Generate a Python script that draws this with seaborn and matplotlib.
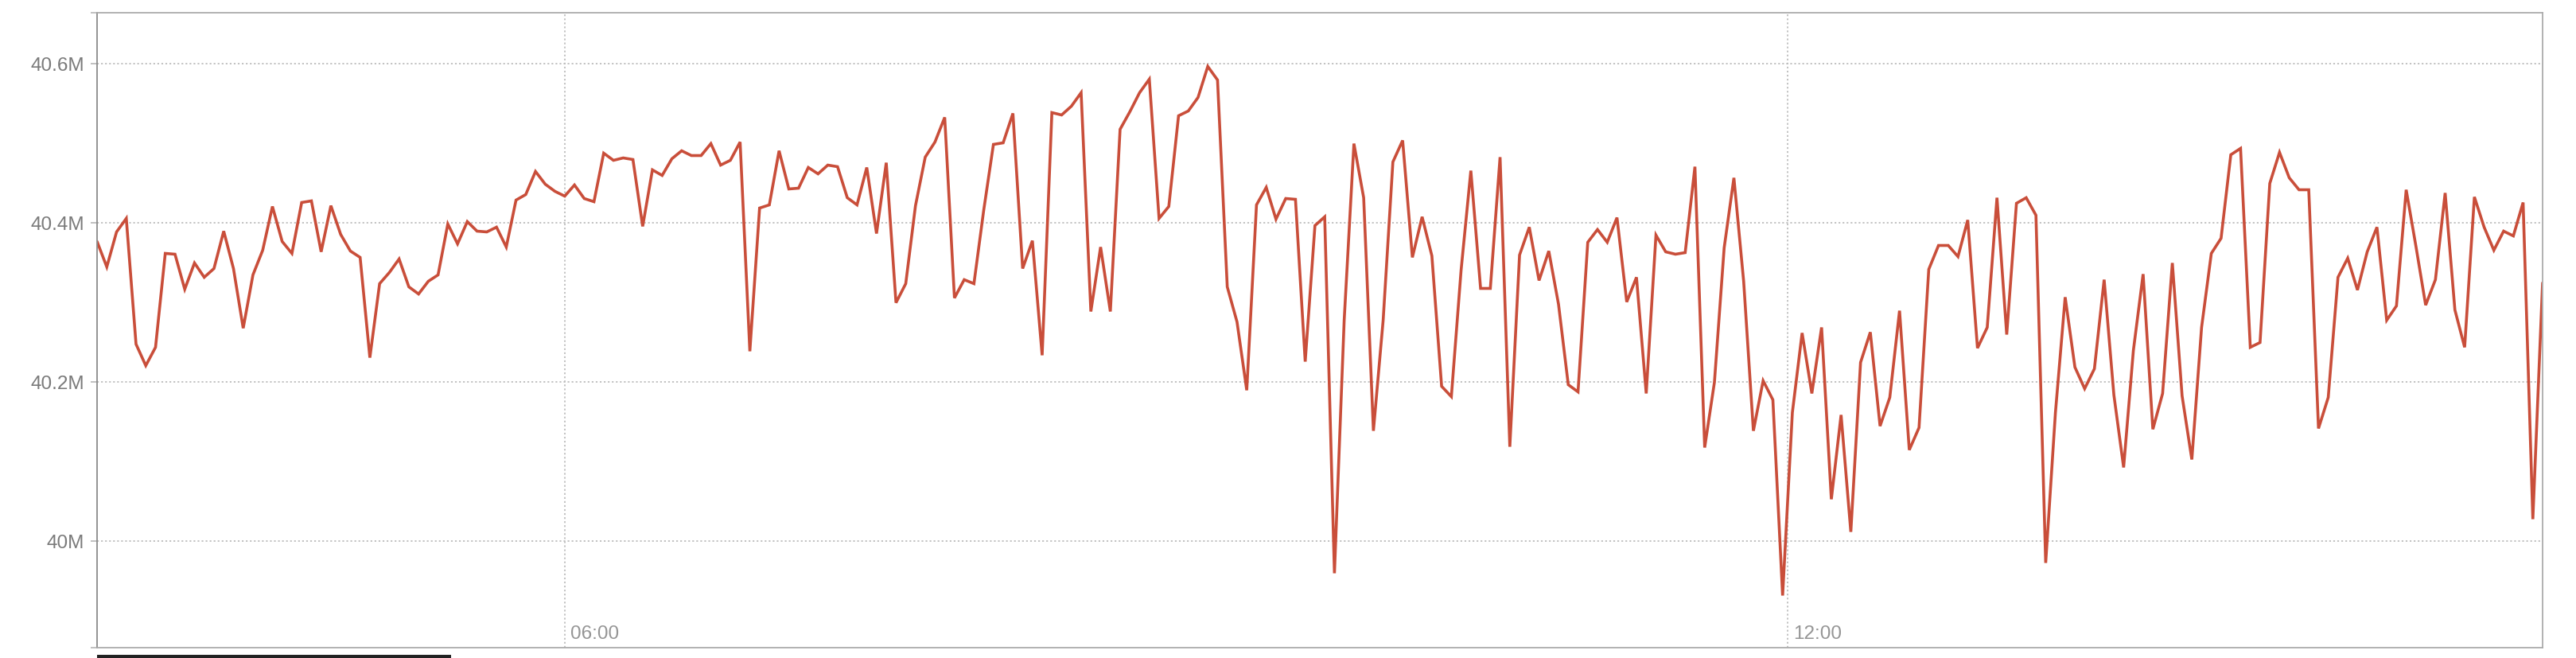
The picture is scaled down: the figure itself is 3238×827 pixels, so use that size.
import pandas as pd
import matplotlib
matplotlib.use("Agg")
import matplotlib.pyplot as plt
import matplotlib.transforms as mtransforms
from matplotlib.ticker import FuncFormatter
from matplotlib.patches import Rectangle
import seaborn as sns

# ### 1. DATA (values in millions, one sample every ~2.9 min over 12 hours)

start_time = "2024-01-01 03:42:19"
end_time = "2024-01-01 15:42:19"

block_1 = [40.376, 40.344, 40.388, 40.405, 40.247, 40.220, 40.243, 40.361, 40.360, 40.316,
           40.349, 40.331, 40.342, 40.389, 40.342, 40.267, 40.334, 40.365, 40.420, 40.376,
           40.361, 40.425, 40.427, 40.363, 40.421, 40.385, 40.364, 40.356, 40.230, 40.323,
           40.337, 40.354, 40.319, 40.310, 40.326, 40.334]
block_2 = [40.398, 40.373, 40.401, 40.389, 40.388, 40.394, 40.369, 40.428, 40.435, 40.464,
           40.448, 40.439, 40.433, 40.447, 40.430, 40.426, 40.487, 40.478, 40.481, 40.479,
           40.395, 40.466, 40.459, 40.480, 40.490, 40.484, 40.484, 40.499, 40.472, 40.478,
           40.501, 40.238, 40.418, 40.422, 40.490, 40.442]
block_3 = [40.443, 40.469, 40.461, 40.472, 40.470, 40.431, 40.422, 40.469, 40.386, 40.475,
           40.299, 40.323, 40.421, 40.482, 40.501, 40.532, 40.305, 40.328, 40.323, 40.415,
           40.498, 40.500, 40.537, 40.342, 40.377, 40.233, 40.538, 40.535, 40.546, 40.563,
           40.288, 40.369, 40.288, 40.517, 40.539, 40.563]
block_4 = [40.580, 40.405, 40.420, 40.534, 40.540, 40.557, 40.596, 40.579, 40.319, 40.275,
           40.189, 40.422, 40.444, 40.404, 40.430, 40.429, 40.225, 40.396, 40.407, 39.959,
           40.277, 40.499, 40.431, 40.138, 40.277, 40.476, 40.503, 40.356, 40.407, 40.358,
           40.194, 40.181, 40.340, 40.465, 40.317, 40.317]
block_5 = [40.482, 40.118, 40.359, 40.394, 40.327, 40.364, 40.297, 40.196, 40.187, 40.375,
           40.391, 40.375, 40.406, 40.300, 40.331, 40.185, 40.384, 40.363, 40.360, 40.362,
           40.470, 40.117, 40.199, 40.368, 40.456, 40.326, 40.138, 40.201, 40.177, 39.931,
           40.161, 40.261, 40.185, 40.268, 40.052, 40.158]
block_6 = [40.011, 40.224, 40.262, 40.144, 40.180, 40.289, 40.114, 40.142, 40.341, 40.371,
           40.371, 40.357, 40.403, 40.242, 40.268, 40.431, 40.259, 40.424, 40.431, 40.409,
           39.972, 40.161, 40.306, 40.218, 40.191, 40.216, 40.328, 40.183, 40.092, 40.239,
           40.335, 40.140, 40.185, 40.349, 40.182, 40.102]
block_7 = [40.268, 40.361, 40.380, 40.485, 40.493, 40.243, 40.249, 40.449, 40.488, 40.456,
           40.441, 40.441, 40.141, 40.180, 40.331, 40.355, 40.315, 40.363, 40.394, 40.277,
           40.295, 40.441, 40.370, 40.296, 40.328, 40.437, 40.290, 40.243, 40.432, 40.394,
           40.365, 40.389, 40.383, 40.425, 40.027, 40.324]

y_ticks_m = [40.0, 40.2, 40.4, 40.6]
y_limits_m = (39.8655, 40.6635)
x_tick_times = ["2024-01-01 06:00", "2024-01-01 12:00"]
x_tick_labels = ["06:00", "12:00"]

values_m = block_1 + block_2 + block_3 + block_4 + block_5 + block_6 + block_7
df = pd.DataFrame({
    "time": pd.date_range(start_time, end_time, periods=len(values_m)),
    "value": [v * 1e6 for v in values_m],
})

# ### 2. STYLE

sns.set_theme(style="white")
plt.rcParams["font.family"] = ["Liberation Sans", "DejaVu Sans"]

LINE_COLOR = "#c94e3a"
GRID_COLOR = "#bdbdbd"

fig = plt.figure(figsize=(32.38, 8.28), dpi=100)
# plot box: x 122..3196 px, y 17..815 px from the top
ax = fig.add_axes([122 / 3238, 13 / 828, (3196 - 122) / 3238, (811 - 13) / 828])

# ### 3. PLOT

sns.lineplot(data=df, x="time", y="value", color=LINE_COLOR, linewidth=2.6,
             ax=ax, solid_joinstyle="miter")

ax.set_xlim(df["time"].iloc[0], df["time"].iloc[-1])
ax.set_ylim(y_limits_m[0] * 1e6, y_limits_m[1] * 1e6)
ax.set_xlabel("")
ax.set_ylabel("")

ax.set_yticks([v * 1e6 for v in y_ticks_m])
ax.set_yticks([v * 1e6 for v in y_limits_m], minor=True)
ax.yaxis.set_major_formatter(FuncFormatter(lambda v, p: f"{v / 1e6:g}M"))
ax.tick_params(axis="y", which="both", length=5.5, width=1.3, color="#bbbbbb",
               labelsize=17.5, labelcolor="#7a7a7a", pad=6, left=True)

xt = pd.to_datetime(x_tick_times)
ax.set_xticks(xt)
ax.set_xticklabels(x_tick_labels)
ax.tick_params(axis="x", length=0, labelsize=17.5, labelcolor="#959595", pad=-21)
shift = mtransforms.ScaledTranslation(7 / 100, 0, fig.dpi_scale_trans)
for lab in ax.get_xticklabels():
    lab.set_horizontalalignment("left")
    lab.set_transform(lab.get_transform() + shift)

ax.grid(True, axis="both", color=GRID_COLOR, linewidth=1.3, linestyle=(0, (1.2, 1.6)))
ax.set_axisbelow(True)

for side, sp in ax.spines.items():
    sp.set_visible(True)
    sp.set_linewidth(1.3)
    sp.set_color("#ababab")
ax.spines["left"].set_color("#8a8a8a")

# dark range bar under the axis
fig.add_artist(Rectangle((122 / 3238, 0), (567 - 122) / 3238, 4 / 828,
                         transform=fig.transFigure, color="#222222", lw=0))

fig.savefig("out.png", dpi=100)
